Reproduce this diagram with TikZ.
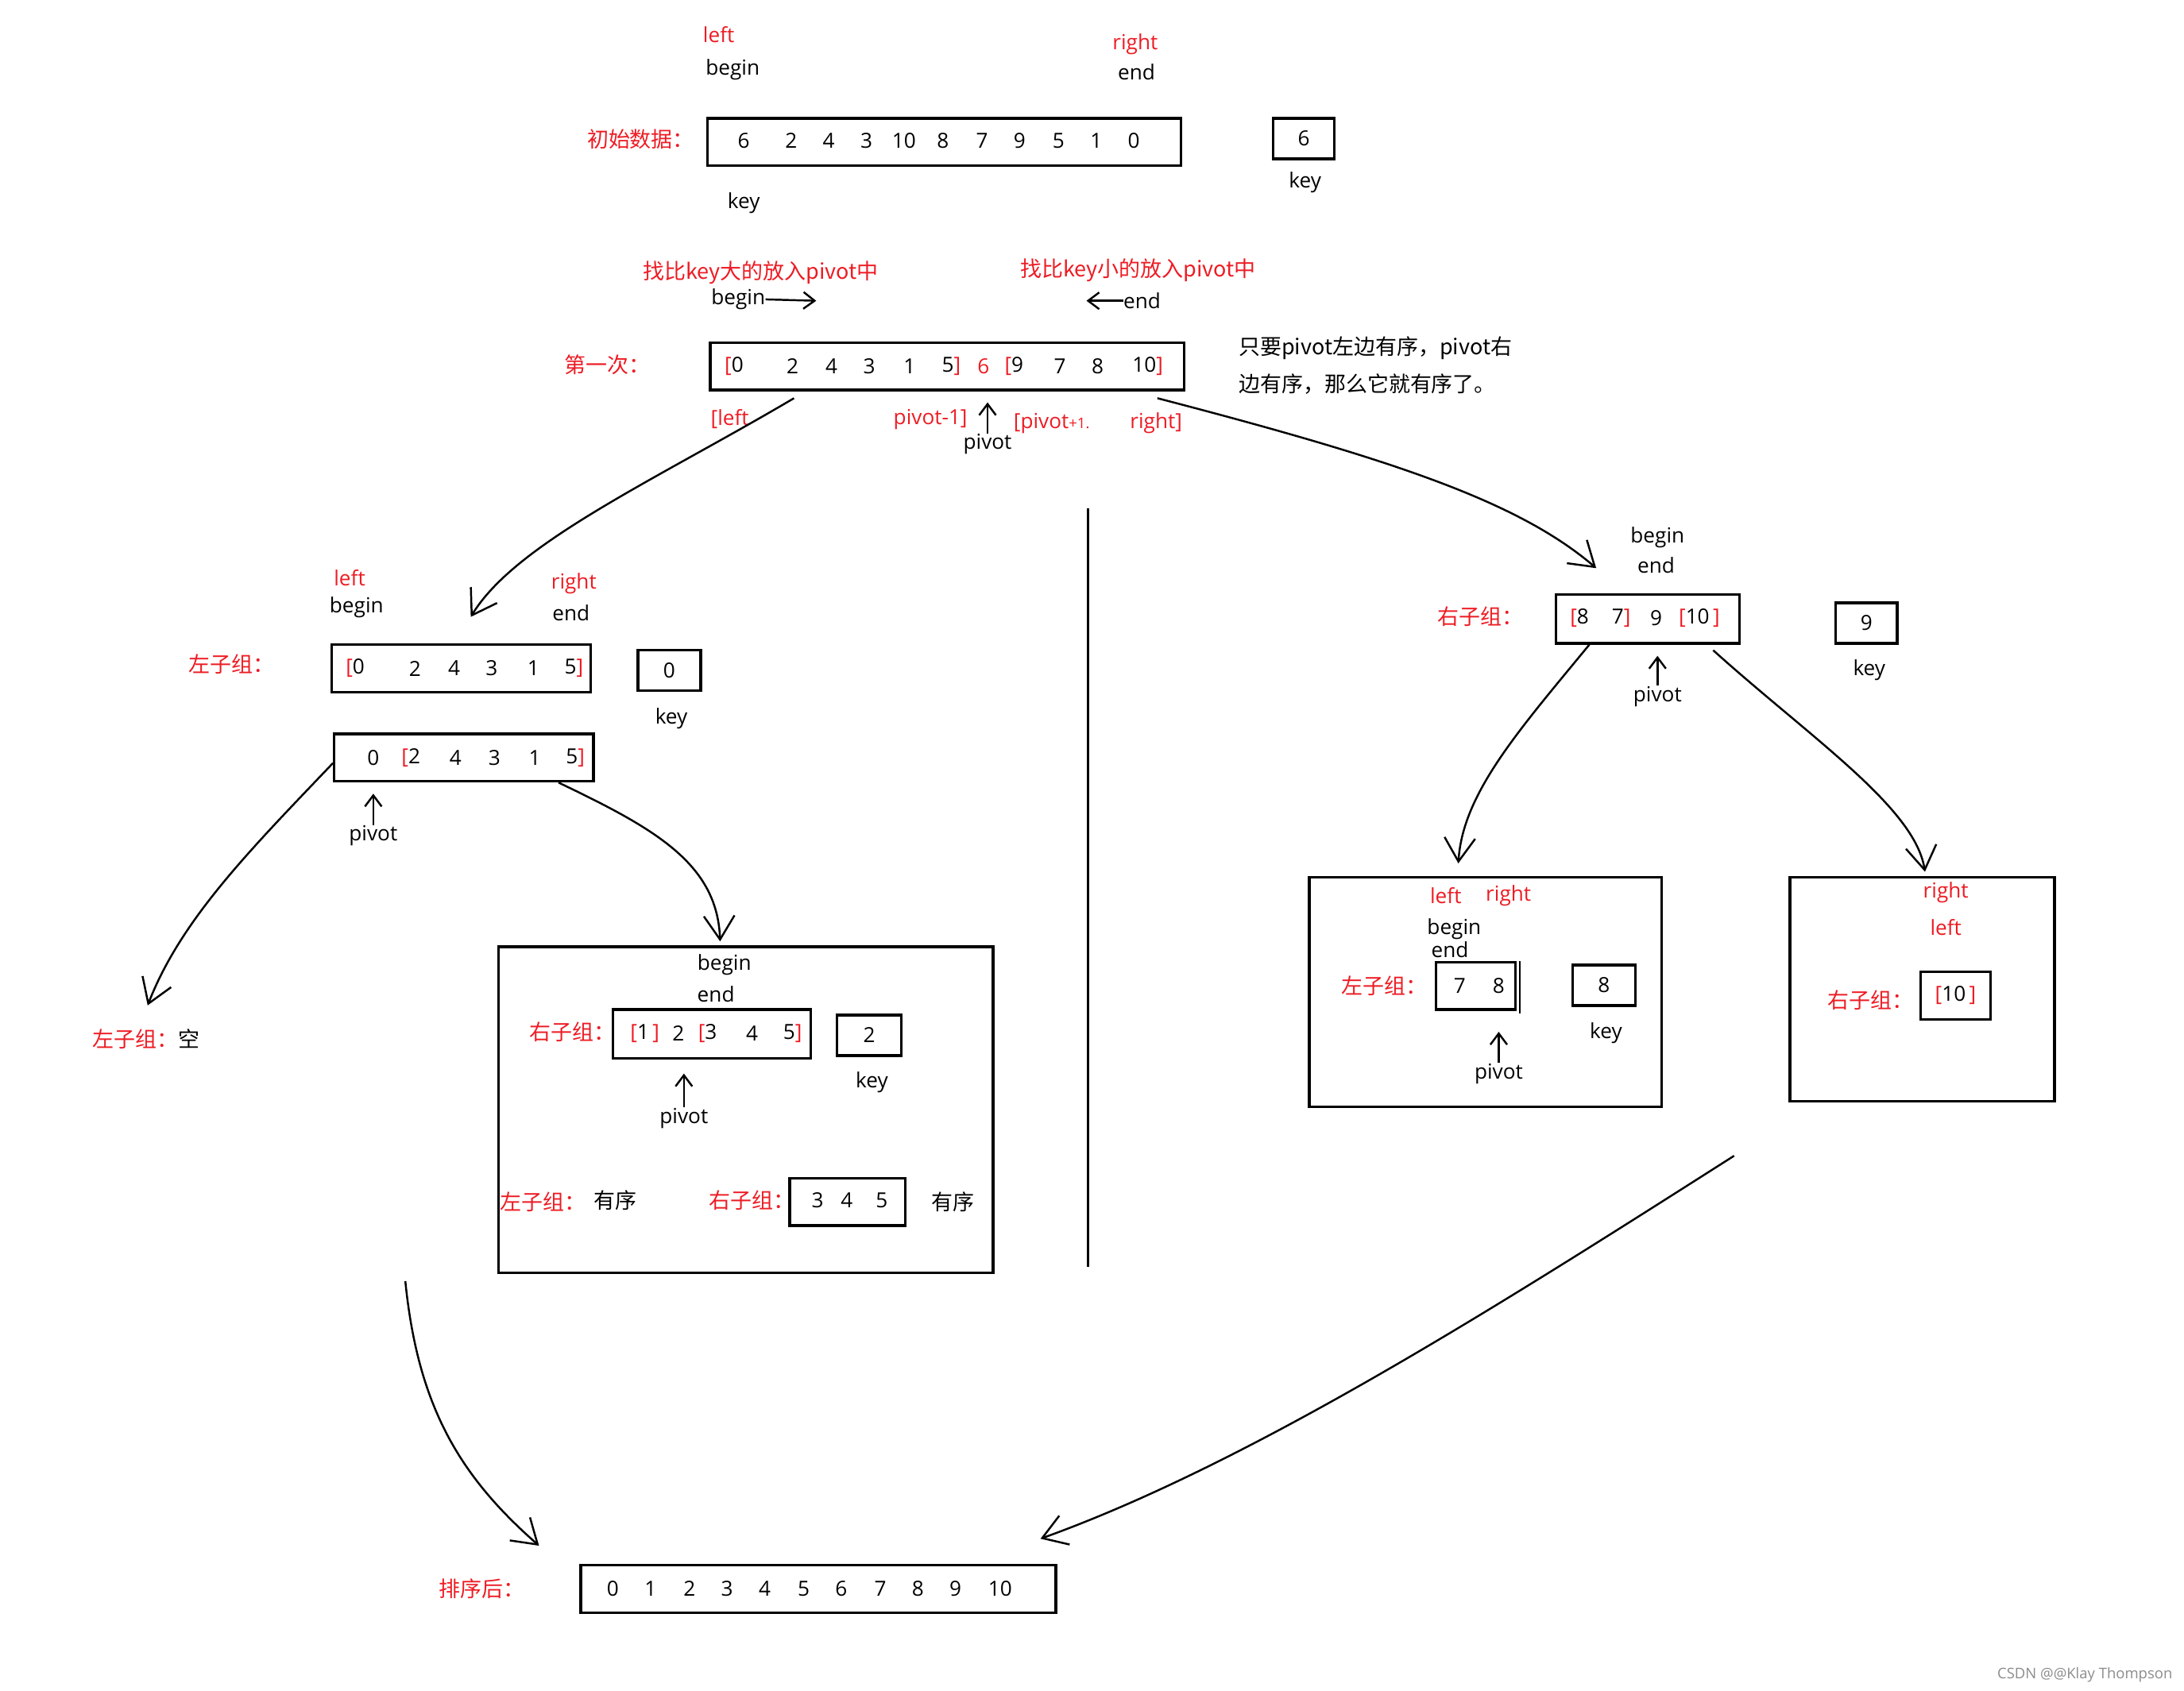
\documentclass[tikz,border=0pt]{standalone}
\usepackage{fontspec}
\setmainfont{Open Sans}
\newfontfamily\zh{Noto Sans CJK SC}[Scale=1.03]
\usepackage{xcolor}
\usepackage{tikz}
\usetikzlibrary{calc, positioning, arrows.meta}
\definecolor{hlred}{RGB}{237,28,36}
\newcommand{\redtxt}[1]{\textcolor{hlred}{#1}}
\tikzset{
    txt/.style={inner sep=0pt, font=\fontsize{8.5pt}{10pt}\selectfont},
    lbl/.style={txt, text=hlred},
    zhtxt/.style={inner sep=0pt, font=\fontsize{8.5pt}{10pt}\selectfont\zh},
    zhlbl/.style={zhtxt, text=hlred},
    box/.style={rectangle, draw=black, line width=1.1pt, inner sep=0pt, minimum height=6.8mm, font=\fontsize{8.5pt}{10pt}\selectfont},
    keybox/.style={box, minimum width=8.8mm, minimum height=5.8mm},
    panel/.style={rectangle, draw=black, line width=1.1pt, inner sep=0pt},
    flow/.style={line width=0.8pt, -{Straight Barb[length=3.4mm, width=4.4mm]}},
    pointer/.style={line width=0.8pt, -{Straight Barb[length=1.6mm, width=2.4mm]}}
}

\begin{document}
\begin{tikzpicture}[x=0.2mm, y=-0.2mm]
    \useasboundingbox (0,0) rectangle (1568,1214);

    % initial data
    \node[lbl] (top-left) at (516,25) {left};
    \node[txt] (top-begin) at (526,50) {begin};
    \node[lbl] (top-right) at (815,32) {right};
    \node[txt] (top-end) at (816,52) {end};
    \node[zhlbl] (lab-init) at (460,100) {初始数据：};
    \node[box, minimum width=68mm] (init) at (678,102) {};
    \foreach \x/\v in {534/6, 568/2, 595/4, 622/3, 649/10, 677/8, 705/7, 732/9, 760/5, 787/1, 814/0}
        \node[txt] (init-\x) at (\x,101) {\v};
    \node[keybox] (key0) at (936,99.5) {6};
    \node[txt] (key0-lab) at (937,131) {key};
    \node[txt] (init-key) at (534,146) {key};

    % first pass
    \node[zhlbl] (hint-big) at (546,196) {找比key大的放入pivot中};
    \node[txt] (beg-move) at (530,215) {begin};
    \coordinate (beg-to) at (586,216);
    \draw[pointer] (beg-move.east) -- (beg-to);
    \node[zhlbl] (hint-small) at (817,194) {找比key小的放入pivot中};
    \node[txt] (end-move) at (820,216) {end};
    \coordinate (end-to) at (780,216);
    \draw[pointer] (end-move.west) -- (end-to);

    \node[zhlbl] (lab-first) at (436,262) {第一次：};
    \node[box, minimum width=68mm] (first) at (680,263) {};
    \foreach \x/\v in {527/{\redtxt{[}0}, 569/2, 597/4, 624/3, 653/1, 683/{5\redtxt{]}}, 706/{\redtxt{6}}, 728/{\redtxt{[}9}, 761/7, 788/8, 824/{10\redtxt{]}}}
        \node[txt] (first-\x) at (\x,263) {\v};
    \node[zhtxt, anchor=west] (note1) at (889,250) {只要pivot左边有序，pivot右};
    \node[zhtxt, anchor=west] (note2) at (889,276) {边有序，那么它就有序了。};

    \node[lbl] (first-lo) at (524,301) {[left};
    \node[lbl] (first-pm) at (668,301) {pivot-1]};
    \node[txt] (first-piv) at (709,319) {pivot};
    \draw[pointer] (first-piv.north) -- ($(first.south -| first-piv)+(0,8)$);
    \node[lbl] (first-pp) at (755,304) {[pivot{\fontsize{6pt}{7pt}\selectfont+1.}};
    \node[lbl] (first-hi) at (830,304) {right]};

    \coordinate (lg-in) at (338,443);
    \draw[flow] ($(first.south west)+(61,5)$) .. controls (470,345) and (370,390) .. (lg-in);
    \coordinate (rg-in) at (1146,408);
    \draw[flow] ($(first.south east)+(-20,5)$) .. controls (1000,330) and (1090,360) .. (rg-in);

    % left sub-array
    \node[lbl] (lg-left) at (251,415) {left};
    \node[txt] (lg-begin) at (256,436) {begin};
    \node[lbl] (lg-right) at (412,419) {right};
    \node[txt] (lg-end) at (410,440) {end};
    \node[zhlbl] (lab-lg) at (166,477) {左子组：};
    \node[box, minimum width=37.2mm] (lg) at (331,480) {};
    \foreach \x/\v in {255/{\redtxt{[}0}, 298/2, 326/4, 353/3, 383/1, 412/{5\redtxt{]}}}
        \node[txt] (lg-\x) at (\x,480) {\v};
    \node[keybox, minimum width=9mm] (key1) at (480.5,481.5) {0};
    \node[txt] (key1-lab) at (482,516) {key};

    \node[box, minimum width=37.2mm] (lgp) at (333,544) {};
    \foreach \x/\v in {268/0, 295/{\redtxt{[}2}, 327/4, 355/3, 384/1, 413/{5\redtxt{]}}}
        \node[txt] (lgp-\x) at (\x,544) {\v};
    \node[txt] (lgp-piv) at (268,600) {pivot};
    \draw[pointer] (lgp-piv.north) -- ($(lgp.south -| lgp-piv)+(0,8)$);

    \coordinate (empty-in) at (106,722);
    \draw[flow] ($(lgp.west)+(0,4)$) .. controls (180,610) and (130,660) .. (empty-in);
    \node[zhtxt] (lab-empty) at (105,746) {\redtxt{左子组：}空};
    \coordinate (lr-in) at (517,676);
    \draw[flow] ($(lgp.south east)+(-26,0)$) .. controls (470,595) and (515,620) .. (lr-in);

    \node[panel, minimum width=71mm, minimum height=46.8mm] (lr) at (535.5,797) {};
    \node[txt] (lr-begin) at (520,693) {begin};
    \node[txt] (lr-end) at (514,714) {end};
    \node[zhlbl] (lab-lr) at (411,741) {右子组：};
    \node[box, minimum width=28.4mm, minimum height=7mm] (lrb) at (511,742.5) {};
    \foreach \x/\v in {463/{\redtxt{[}1\,\redtxt{]}}, 487/2, 508/{\redtxt{[}3}, 540/4, 569/{5\redtxt{]}}}
        \node[txt] (lrb-\x) at (\x,742) {\v};
    \node[keybox, minimum width=9.2mm] (key2) at (624,743.5) {2};
    \node[txt] (key2-lab) at (626,777) {key};
    \node[txt] (lrb-piv) at (491,803) {pivot};
    \draw[pointer] (lrb-piv.north) -- ($(lrb.south -| lrb-piv)+(0,10)$);
    \node[zhlbl] (lab-lrl) at (390,863) {左子组：};
    \node[zhtxt] (lrl-ok) at (442,862) {有序};
    \node[zhlbl] (lab-lrr) at (540,862) {右子组：};
    \node[box, minimum width=16.6mm] (lrr) at (608.5,863) {};
    \foreach \x/\v in {587/3, 608/4, 633/5}
        \node[txt] (lrr-\x) at (\x,862) {\v};
    \node[zhtxt] (lrr-ok) at (684,863) {有序};

    % divider
    \coordinate (div-top) at (781,365);
    \coordinate (div-bot) at (781,910);
    \draw[line width=0.9pt] (div-top) -- (div-bot);

    % right sub-array
    \node[txt] (rg-begin) at (1190,386) {begin};
    \node[txt] (rg-end) at (1189,406) {end};
    \node[zhlbl] (lab-rg) at (1063,443) {右子组：};
    \node[box, minimum width=26.4mm, minimum height=7mm] (rg) at (1183,444.5) {};
    \foreach \x/\v in {1134/{\redtxt{[}8}, 1164/{7\redtxt{]}}, 1189/9, 1220/{\redtxt{[}10\,\redtxt{]}}}
        \node[txt] (rg-\x) at (\x,444) {\v};
    \node[keybox] (key3) at (1340,447.5) {9};
    \node[txt] (key3-lab) at (1342,481) {key};
    \node[txt] (rg-piv) at (1190,500) {pivot};
    \draw[pointer] (rg-piv.north) -- ($(rg.south -| rg-piv)+(0,8)$);

    \coordinate (rl-in) at (1047,620);
    \draw[flow] ($(rg.south west)+(25,0)$) .. controls (1090,525) and (1050,570) .. (rl-in);
    \coordinate (rr-in) at (1382,626);
    \draw[flow] ($(rg.south east)+(-20,4)$) .. controls (1300,530) and (1375,580) .. (rr-in);

    \node[panel, minimum width=50.6mm, minimum height=33mm] (rl) at (1066.5,712.5) {};
    \node[lbl] (rl-left) at (1038,643) {left};
    \node[lbl] (rl-right) at (1083,643) {right};
    \node[txt] (rl-begin) at (1044,667) {begin};
    \node[txt] (rl-end) at (1041,682) {end};
    \node[zhlbl] (lab-rl) at (994,708) {左子组：};
    \node[box, minimum width=11.4mm] (rlb) at (1059.5,708) {};
    \draw[line width=0.6pt] ($(rlb.north east)+(2,0)$) -- ($(rlb.south east)+(2,2)$);
    \foreach \x/\v in {1048/7, 1076/8}
        \node[txt] (rlb-\x) at (\x,708) {\v};
    \node[keybox, minimum width=9mm] (key4) at (1151.5,707.5) {8};
    \node[txt] (key4-lab) at (1153,742) {key};
    \node[txt] (rlb-piv) at (1076,771) {pivot};
    \draw[pointer] (rlb-piv.north) -- ($(rlb.south -| rlb-piv)+(0,15)$);

    \node[panel, minimum width=38mm, minimum height=32.2mm] (rr) at (1380,710.5) {};
    \node[lbl] (rr-right) at (1397,641) {right};
    \node[lbl] (rr-left) at (1397,666) {left};
    \node[zhlbl] (lab-rr) at (1343,718) {右子组：};
    \node[box, minimum width=10mm] (rrb) at (1404,715) {\redtxt{[}10\,\redtxt{]}};

    % merged result
    \coordinate (out-l) at (291,920);
    \coordinate (sort-l) at (387,1110);
    \draw[flow] (out-l) .. controls (300,1010) and (330,1060) .. (sort-l);
    \coordinate (out-r) at (1245,830);
    \coordinate (sort-r) at (747,1105);
    \draw[flow] (out-r) .. controls (1080,935) and (900,1050) .. (sort-r);

    \node[zhlbl] (lab-sort) at (346,1141) {排序后：};
    \node[box, minimum width=68.2mm] (sorted) at (587.5,1141) {};
    \foreach \x/\v in {440/0, 467/1, 495/2, 522/3, 549/4, 577/5, 604/6, 632/7, 659/8, 686/9, 718/10}
        \node[txt] (sorted-\x) at (\x,1141) {\v};

    \node[txt, anchor=east, text=black!45, font=\fontsize{6pt}{7pt}\selectfont] (wm) at (1560,1203) {CSDN @@Klay Thompson};
\end{tikzpicture}
\end{document}
